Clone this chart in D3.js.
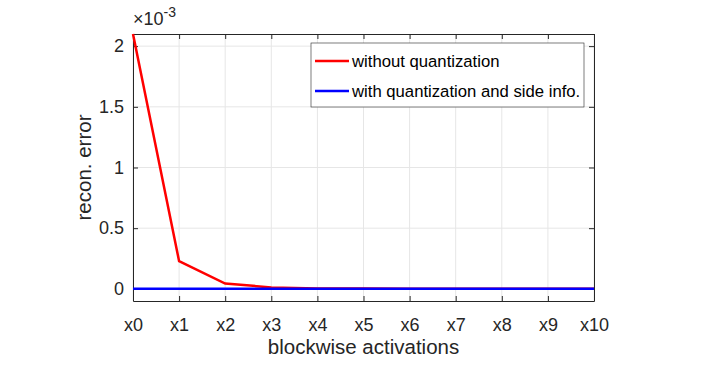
<!DOCTYPE html>
<html>
<head>
<meta charset="utf-8">
<script src="https://cdn.jsdelivr.net/npm/d3@7"></script>
<style>
  body { margin: 0; background: #fff; }
  text { font-family: "Liberation Sans", Arial, sans-serif; }
</style>
</head>
<body>
<div id="chart"></div>
<script>
// data (values in units of 1e-3)
var categories = ["x0", "x1", "x2", "x3", "x4", "x5", "x6", "x7", "x8", "x9", "x10"];
var withoutQuant = [2.1, 0.228, 0.044, 0.012, 0.004, 0.002, 0.001, 0.001, 0.001, 0.001, 0.001];
var withQuant = [0, 0, 0, 0, 0, 0, 0, 0, 0, 0, 0];
var yTicks = [0, 0.5, 1, 1.5, 2];
var seriesNames = ["without quantization", "with quantization and side info."];

var W = 721, H = 370;
var margin = {top: 34, right: 127, bottom: 69, left: 133};
var width = W - margin.left - margin.right,
    height = H - margin.top - margin.bottom;

var svg = d3.select("#chart").append("svg")
  .attr("width", W).attr("height", H);

var g = svg.append("g")
  .attr("transform", "translate(" + margin.left + "," + margin.top + ")");

var x = d3.scalePoint().domain(categories).range([0, width]);
var y = d3.scaleLinear().domain([-0.1, 2.1]).range([height, 0]);

// grid
g.append("g").selectAll("line").data(categories).enter().append("line")
  .attr("x1", function(d) { return x(d); }).attr("x2", function(d) { return x(d); })
  .attr("y1", 0).attr("y2", height)
  .attr("stroke", "#e6e6e6").attr("stroke-width", 1);
g.append("g").selectAll("line").data(yTicks).enter().append("line")
  .attr("x1", 0).attr("x2", width)
  .attr("y1", function(d) { return y(d); }).attr("y2", function(d) { return y(d); })
  .attr("stroke", "#e6e6e6").attr("stroke-width", 1);

// axes
var axisColor = "#262626";
function styleAxis(sel, showText) {
  sel.select(".domain").attr("stroke", axisColor);
  sel.selectAll(".tick line").attr("stroke", axisColor);
  sel.selectAll(".tick text").attr("fill", axisColor).attr("font-size", 18)
    .style("display", showText ? null : "none");
}
g.append("g").attr("transform", "translate(0," + height + ")")
  .call(d3.axisBottom(x).tickSizeInner(-5).tickSizeOuter(0).tickPadding(17))
  .call(styleAxis, true);
g.append("g")
  .call(d3.axisTop(x).tickSizeInner(-5).tickSizeOuter(0))
  .call(styleAxis, false);
g.append("g")
  .call(d3.axisLeft(y).tickValues(yTicks).tickSizeInner(-5).tickSizeOuter(0).tickPadding(9)
    .tickFormat(function(d) { return d; }))
  .call(styleAxis, true);
g.append("g").attr("transform", "translate(" + width + ",0)")
  .call(d3.axisRight(y).tickValues(yTicks).tickSizeInner(-5).tickSizeOuter(0))
  .call(styleAxis, false);

// exponent label
var expo = svg.append("text").attr("x", margin.left).attr("y", margin.top - 9)
  .attr("font-size", 18).attr("fill", axisColor);
expo.append("tspan").text("\u00d710");
expo.append("tspan").attr("dy", -8).attr("font-size", 14).text("-3");

// lines
var line = d3.line()
  .x(function(d, i) { return x(categories[i]); })
  .y(function(d) { return y(d); });

g.append("path").datum(withoutQuant)
  .attr("fill", "none").attr("stroke", "#ff0000").attr("stroke-width", 2.5)
  .attr("d", line);
g.append("path").datum(withQuant)
  .attr("fill", "none").attr("stroke", "#0000ff").attr("stroke-width", 2.5)
  .attr("d", line);

// axis labels
svg.append("text")
  .attr("x", margin.left + width / 2).attr("y", 354)
  .attr("text-anchor", "middle").attr("font-size", 20.5).attr("fill", axisColor)
  .text("blockwise activations");
svg.append("text")
  .attr("transform", "translate(91," + (margin.top + height / 2) + ") rotate(-90)")
  .attr("text-anchor", "middle").attr("font-size", 20.5).attr("fill", axisColor)
  .text("recon. error");

// legend
var lg = svg.append("g").attr("transform", "translate(311,43)");
lg.append("rect").attr("width", 273).attr("height", 64)
  .attr("fill", "#fff").attr("stroke", "#262626").attr("stroke-width", 0.6);
var colors = ["#ff0000", "#0000ff"];
seriesNames.forEach(function(name, i) {
  var yy = 18 + i * 30;
  lg.append("line").attr("x1", 4).attr("x2", 38).attr("y1", yy).attr("y2", yy)
    .attr("stroke", colors[i]).attr("stroke-width", 2.5);
  lg.append("text").attr("x", 41).attr("y", yy + 6).attr("font-size", 16.7)
    .attr("fill", "#000").text(name);
});
</script>
</body>
</html>
